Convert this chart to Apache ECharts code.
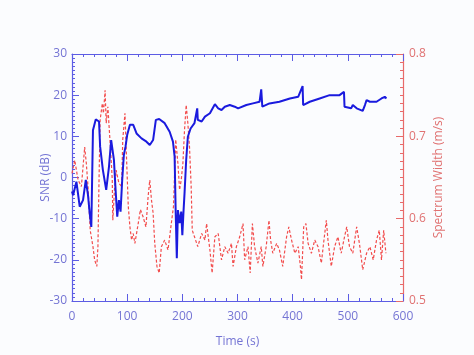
<!DOCTYPE html>
<html><head><meta charset="utf-8">
<script src="https://cdn.jsdelivr.net/npm/echarts@6/dist/echarts.min.js"></script>
<style>html,body{margin:0;padding:0;background:#fbfcfe}#c{width:474px;height:355px}</style>
</head><body><div id="c"></div>
<script>
// Time tick labels (s)
const timeTicks = [0,100,200,300,400,500,600];
// SNR (dB) vs time (s)
const snrTime = [0,2,8,14,20,25,29,32,35,38,43,49,51,56,62,67,71,76,79,82,85,88,91,94,97,100,105,111,117,126,135,141,147,152,158,168,177,183,186,188,190,192,195,198,200,202,204,207,210,215,222,227,228,235,241,250,259,265,271,277,286,295,301,316,328,340,343,345,358,376,395,410,418,419,431,449,467,485,493,494,506,509,516,527,531,534,540,552,561,567,570];
const snrValues = [-3.4,-4.3,-1,-7.1,-5.5,-0.6,-4.3,-8.6,-12,11.5,14.1,13.6,7.5,1.8,-3,2.6,9.1,4.3,-3,-9.5,-5.5,-8.3,-0.6,5.5,7.5,10.3,12.8,12.8,10.7,9.5,8.7,7.9,9.1,14,14.2,13.2,11.1,8.7,5.1,-8.6,-19.6,-7.9,-11.1,-8.3,-14,-8.6,-3.8,4.3,9.9,11.9,13.2,16.8,14,13.6,14.8,15.6,17.8,16.8,16.4,17.2,17.6,17.2,16.8,17.6,18,18.4,21.4,17.2,18,18.4,19.2,19.6,22.2,17.6,18.4,19.2,20,20,20.8,17.2,16.8,17.6,16.8,16.2,17.6,18.8,18.4,18.4,19.2,19.6,19.2];
// Spectrum width (m/s) vs time (s)
const swTime = [0,5,11,17,23,26,29,33,38,41,45,47,49,51,55,57,60,62,65,68,71,73,74,77,80,85,90,92,96,99,102,105,108,111,114,120,124,129,134,138,141,144,147,150,154,158,162,168,174,180,184,188,192,195,198,201,204,207,210,213,216,218,222,228,235,241,244,250,254,259,265,271,277,283,289,292,298,304,310,313,319,323,327,331,337,343,346,352,357,360,364,371,376,382,389,393,398,404,410,414,416,420,424,428,434,440,446,452,456,461,464,470,476,482,488,494,498,503,509,516,521,527,534,540,546,552,557,561,565,569];
const swValues = [0.655,0.671,0.647,0.639,0.687,0.667,0.639,0.586,0.566,0.550,0.542,0.566,0.647,0.720,0.740,0.728,0.756,0.716,0.736,0.704,0.671,0.647,0.598,0.635,0.659,0.643,0.639,0.696,0.728,0.671,0.615,0.590,0.574,0.582,0.570,0.594,0.611,0.602,0.590,0.627,0.647,0.623,0.607,0.570,0.542,0.534,0.566,0.574,0.562,0.594,0.615,0.696,0.667,0.635,0.647,0.667,0.708,0.738,0.716,0.687,0.639,0.586,0.578,0.566,0.582,0.574,0.594,0.562,0.534,0.578,0.582,0.550,0.566,0.558,0.570,0.542,0.566,0.578,0.594,0.550,0.566,0.534,0.594,0.566,0.546,0.566,0.542,0.566,0.598,0.574,0.558,0.570,0.562,0.542,0.578,0.590,0.574,0.558,0.566,0.542,0.526,0.590,0.594,0.570,0.558,0.574,0.566,0.546,0.570,0.598,0.574,0.542,0.566,0.578,0.558,0.578,0.590,0.566,0.558,0.590,0.570,0.538,0.558,0.566,0.550,0.574,0.586,0.550,0.586,0.558];

const BLUE_AX = '#5c5ce4', BLUE_TX = '#7474d4', RED_AX = '#e86a6a', RED_TX = '#e07272';
const FONT = '"Open Sans", "DejaVu Sans", sans-serif';
const zip = (a,b) => a.map((v,i)=>[v,b[i]]);

const xCommon = {
  type:'value', min:0, max:600, interval:100,
  axisLine:{show:true,onZero:false,lineStyle:{color:BLUE_AX,width:1.2}},
  axisTick:{show:true,inside:true,length:7,lineStyle:{color:BLUE_AX,width:1}},
  minorTick:{show:true,splitNumber:5,length:3,lineStyle:{color:BLUE_AX,width:1}},
  splitLine:{show:false}
};
const chart = echarts.init(document.getElementById('c'), null, {renderer:'canvas'});
chart.setOption({
  backgroundColor:'#fbfcfe',
  animation:false,
  grid:{left:72,right:71,top:54,bottom:54},
  xAxis:[
    Object.assign({}, xCommon, {position:'bottom',
      name:'Time (s)', nameLocation:'middle', nameGap:35, nameMoveOverlap:false,
      nameTextStyle:{color:BLUE_TX,fontSize:12,fontFamily:FONT},
      axisLabel:{color:BLUE_TX,fontSize:12,fontFamily:FONT,margin:10,
        formatter:v=>timeTicks.includes(v)?String(v):''}}),
    Object.assign({}, xCommon, {position:'top', axisLabel:{show:false}})
  ],
  yAxis:[
    {type:'value', min:-30, max:30, interval:10, position:'left',
     name:'SNR (dB)', nameLocation:'middle', nameGap:20, nameRotate:90, nameMoveOverlap:false,
     nameTextStyle:{color:BLUE_TX,fontSize:12,fontFamily:FONT},
     axisLine:{show:true,onZero:false,lineStyle:{color:BLUE_AX,width:1.2}},
     axisTick:{show:true,inside:true,length:7,lineStyle:{color:BLUE_AX}},
     minorTick:{show:true,splitNumber:10,length:3,lineStyle:{color:BLUE_AX}},
     axisLabel:{color:BLUE_TX,fontSize:12,fontFamily:FONT,margin:5},
     splitLine:{show:false}},
    {type:'value', min:0.5, max:0.8, interval:0.1, position:'right',
     name:'Spectrum Width (m/s)', nameLocation:'middle', nameGap:30, nameRotate:90, nameMoveOverlap:false,
     nameTextStyle:{color:RED_TX,fontSize:12,fontFamily:FONT},
     axisLine:{show:true,onZero:false,lineStyle:{color:RED_AX,width:1.2}},
     axisTick:{show:true,inside:true,length:7,lineStyle:{color:RED_AX}},
     minorTick:{show:true,splitNumber:10,length:3,lineStyle:{color:RED_AX}},
     axisLabel:{color:RED_TX,fontSize:12,fontFamily:FONT,margin:6,formatter:v=>v.toFixed(1)},
     splitLine:{show:false}}
  ],
  series:[
    {type:'line', name:'Spectrum Width', xAxisIndex:0, yAxisIndex:1, data:zip(swTime,swValues),
     showSymbol:false, lineStyle:{color:'#f24c4c',width:1.2,type:[3,2]}, z:2},
    {type:'line', name:'SNR', xAxisIndex:0, yAxisIndex:0, data:zip(snrTime,snrValues),
     showSymbol:false, lineStyle:{color:'#1a1ade',width:2}, z:3}
  ]
});
</script></body></html>
